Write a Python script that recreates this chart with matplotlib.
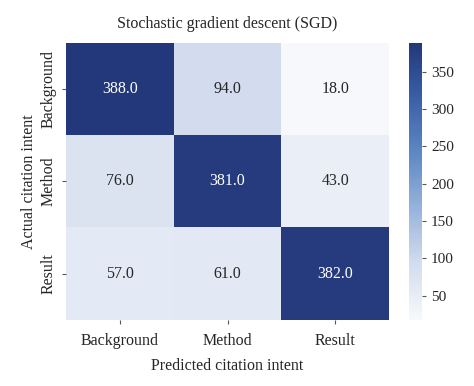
import numpy as np
import matplotlib
matplotlib.use("Agg")
import matplotlib.pyplot as plt
from matplotlib.colors import LinearSegmentedColormap

# confusion matrix for the SGD classifier
labels = ["Background", "Method", "Result"]
row_background = [388, 94, 18]
row_method = [76, 381, 43]
row_result = [57, 61, 382]
cbar_ticks = [50, 100, 150, 200, 250, 300, 350]

plt.rcParams["font.family"] = ["Liberation Serif", "DejaVu Serif"]

cm = np.array([row_background, row_method, row_result], dtype=float)

cmap = LinearSegmentedColormap.from_list(
    "navy_blues",
    ["#f6f8fc", "#d3ddee", "#98b3db", "#5f88c4", "#3a60a8", "#23387a"],
)

fig = plt.figure(figsize=(4.74, 3.86), dpi=100)
ax = fig.add_axes([0.139, 0.172, 0.682, 0.716])
cax = fig.add_axes([0.863, 0.172, 0.027, 0.716])

mesh = ax.pcolormesh(cm, cmap=cmap, vmin=cm.min(), vmax=cm.max())
ax.set_xlim(0, 3)
ax.set_ylim(3, 0)
for s in ax.spines.values():
    s.set_visible(False)

for i in range(3):
    for j in range(3):
        v = cm[i, j]
        color = "white" if v > 250 else "#262626"
        ax.text(j + 0.5, i + 0.5, f"{v:.1f}", ha="center", va="center",
                fontsize=11.5, color=color)

ax.set_xticks(np.arange(3) + 0.5)
ax.set_yticks(np.arange(3) + 0.5)
ax.set_xticklabels(labels, fontsize=11.5, color="#262626")
ax.set_yticklabels(labels, fontsize=11.5, color="#262626", rotation=90, va="center")
ax.tick_params(length=3, color="#555555", pad=4)
ax.tick_params(axis="x", pad=7)
ax.set_xlabel("Predicted citation intent", fontsize=11.5, color="#262626", labelpad=6)
ax.set_ylabel("Actual citation intent", fontsize=11.5, color="#262626", labelpad=2)
ax.set_title("Stochastic gradient descent (SGD)", fontsize=11.5, color="#262626", pad=11)

cb = fig.colorbar(mesh, cax=cax)
cb.outline.set_visible(False)
cb.set_ticks(cbar_ticks)
cb.ax.tick_params(labelsize=11, length=3, color="#555555", labelcolor="#262626")

fig.savefig("out.png", dpi=100)
